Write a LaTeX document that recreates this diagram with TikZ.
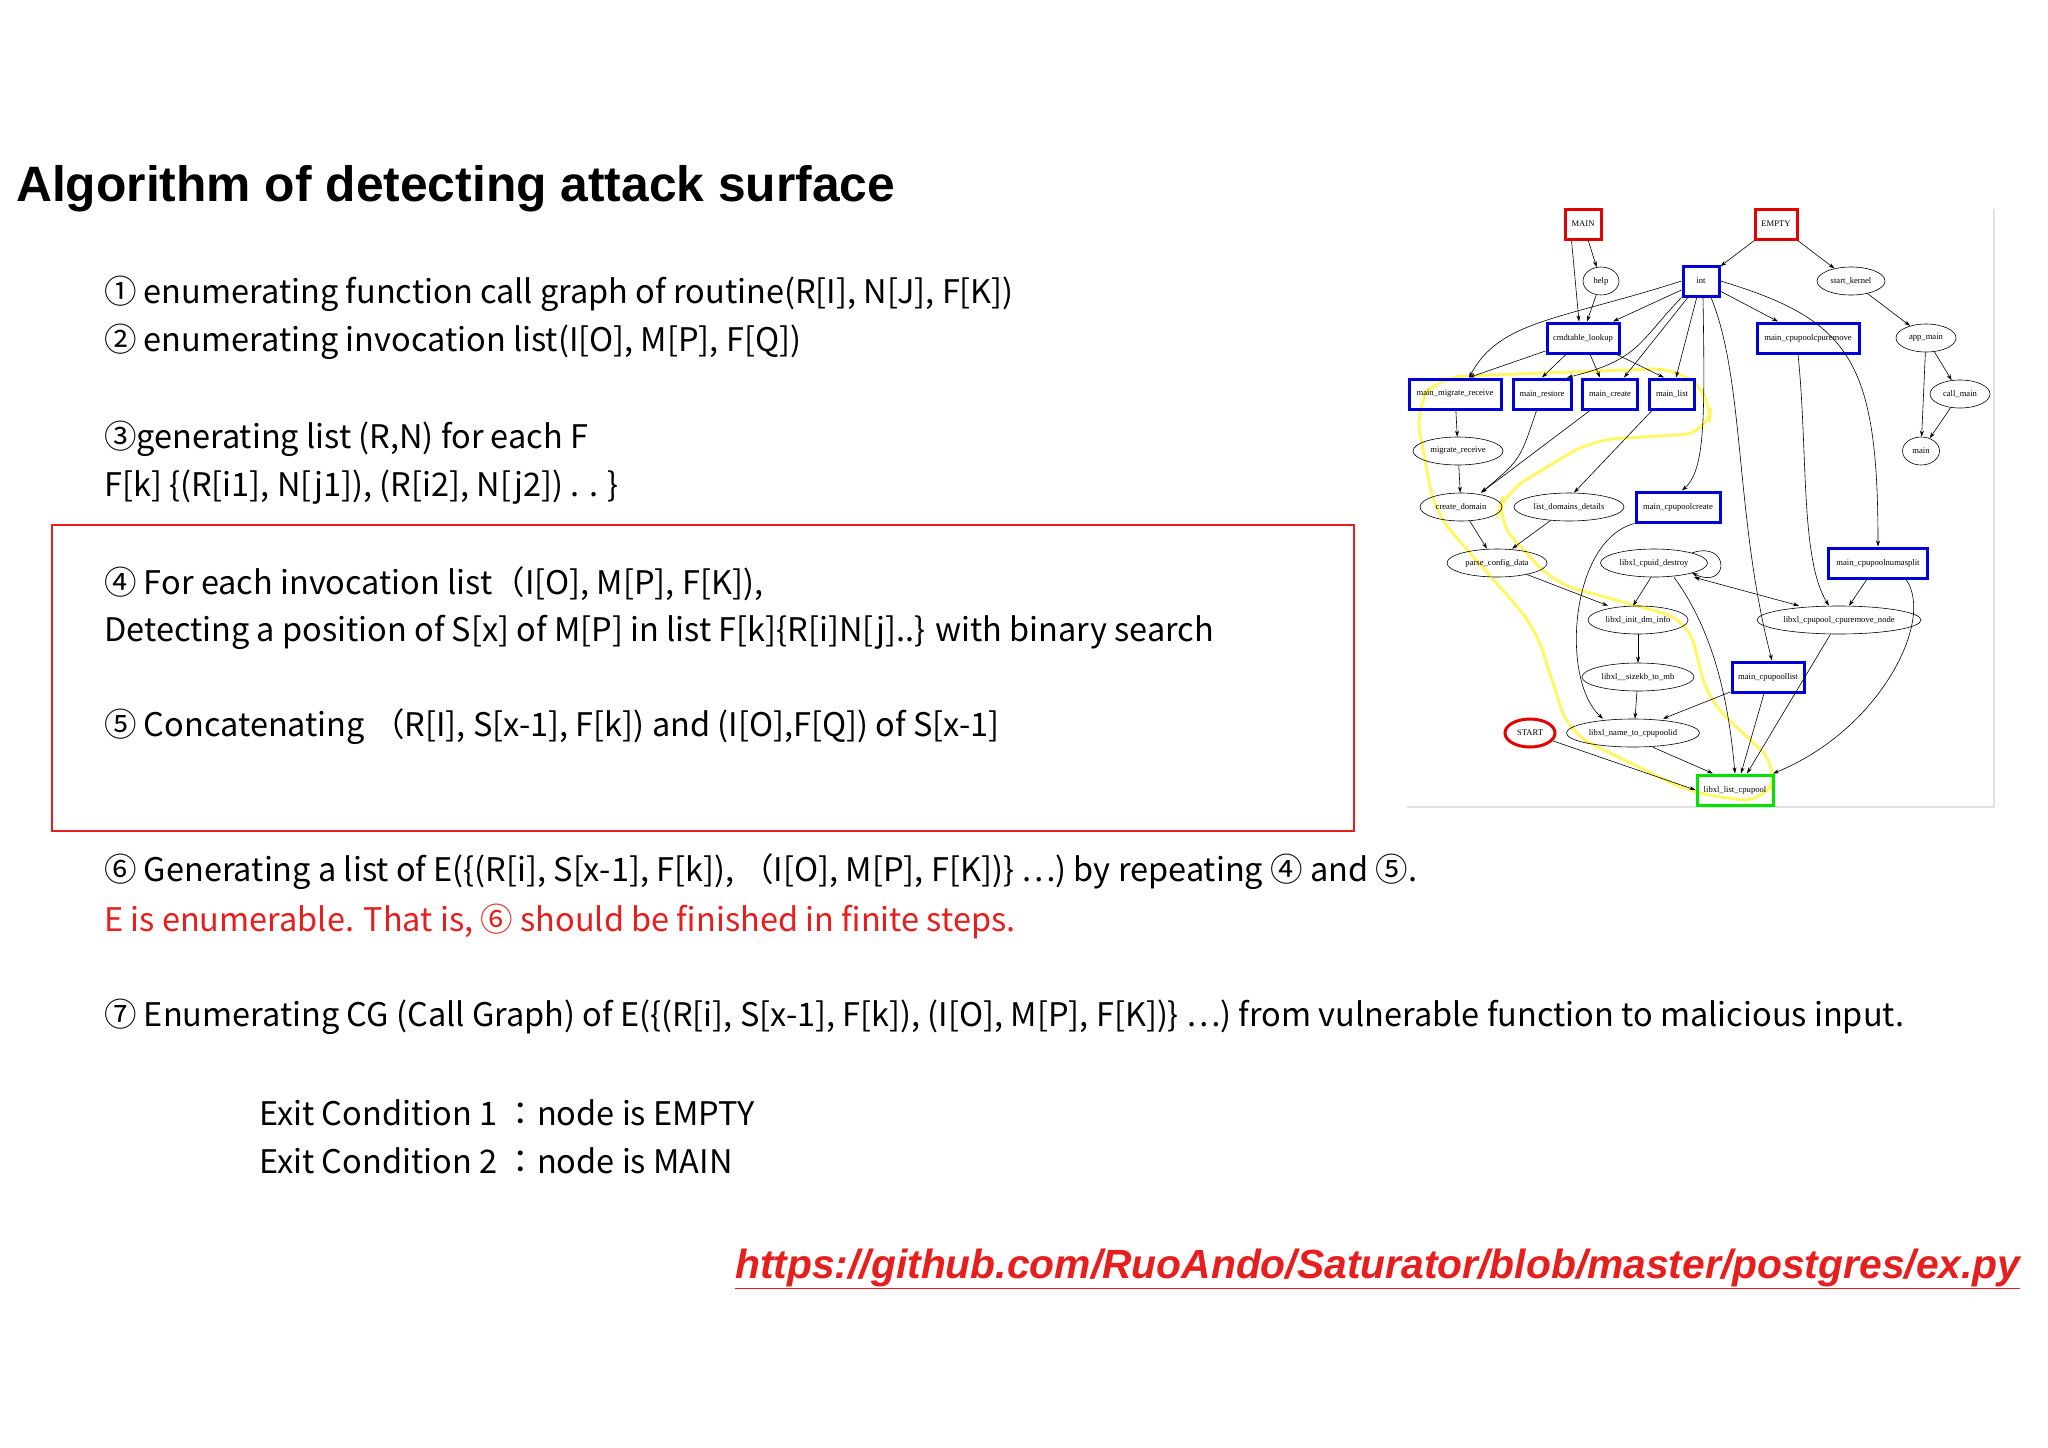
\documentclass[tikz,border=0pt]{standalone}
\usepackage{fontspec}
\setmainfont{Noto Sans CJK JP}
\newfontfamily\titlefont{Liberation Sans}
\newfontfamily\gfont{Liberation Serif}
\usetikzlibrary{shapes.geometric,arrows.meta}
\definecolor{rd}{RGB}{230,30,30}
\begin{document}
\begin{tikzpicture}[x=1pt,y=-1pt,
 txt/.style={anchor=west,inner sep=0pt,font=\fontsize{32.5}{38}\selectfont},
 gn/.style={font=\gfont\fontsize{8.6}{10}\selectfont,inner sep=0pt,minimum height=28pt},
 bbox/.style={gn,draw=blue!85!black,line width=3pt,rectangle,minimum height=30pt},
 rbox/.style={gn,draw=red!90!black,line width=3pt,rectangle,minimum height=30pt},
 ell/.style={gn,draw,ellipse,line width=0.6pt},
 ar/.style={-{Stealth[length=6pt,width=4pt]},line width=0.6pt}]
\useasboundingbox (0,0) rectangle (2048,1448);
\fill[white] (0,0) rectangle (2048,1448);
% title
\node[anchor=west,inner sep=0pt] (title) at (16,189) {\resizebox{879pt}{!}{\titlefont\bfseries\fontsize{40}{48}\selectfont Algorithm of detecting attack surface}};
\node[txt] (l1) at (104,294) {① enumerating function call graph of routine(R[I], N[J], F[K])};
\node[txt] (l2) at (104,342) {② enumerating invocation list(I[O], M[P], F[Q])};
\node[txt] (l3) at (104,439) {③generating list (R,N) for each F};
\node[txt] (l4) at (104,487) {F[k] \{(R[i1], N[j1]), (R[i2], N[j2]) . . \}};
\draw[rd,line width=1.5pt] (52,525) rectangle (1354,831);
\node[txt] (l5) at (104,584) {④ For each invocation list（I[O], M[P], F[K]),};
\node[txt] (l6) at (104,632) {Detecting a position of S[x] of M[P] in list F[k]\{R[i]N[j]..\} with binary search};
\node[txt] (l7) at (104,727) {⑤ Concatenating （R[I], S[x-1], F[k]) and (I[O],F[Q]) of S[x-1]};
\node[txt] (l8) at (104,872) {⑥ Generating a list of E(\{(R[i], S[x-1], F[k]), （I[O], M[P], F[K])\} …) by repeating ④ and ⑤.};
\node[txt,text=rd] (l9) at (104,921) {E is enumerable. That is, ⑥ should be finished in finite steps.};
\node[txt] (l10) at (104,1017) {⑦ Enumerating CG (Call Graph) of E(\{(R[i], S[x-1], F[k]), (I[O], M[P], F[K])\} …) from vulnerable function to malicious input.};
\node[txt] (e1) at (259,1113) {Exit Condition 1 ：node is EMPTY};
\node[txt] (e2) at (259,1161) {Exit Condition 2 ：node is MAIN};
\node[anchor=west,inner sep=0pt,text=rd] (url) at (735,1269) {\resizebox{1285pt}{!}{\titlefont\bfseries\itshape\fontsize{36}{40}\selectfont\underline{https://github.com/RuoAndo/Saturator/blob/master/postgres/ex.py}}};
% graph frame
\draw[black!12,line width=1.5pt] (1407,807) -- (1994,807) -- (1994,209);
% yellow highlight
\draw[yellow!85!white,line width=3pt,opacity=0.7,rounded corners=25pt]
 (1438,377) -- (1677,368) -- (1712,397) -- (1708,433) -- (1592,440) -- (1504,493) -- (1496,520)
 -- (1554,583) -- (1688,620) -- (1708,700) -- (1779,767) -- (1765,803) -- (1692,793) -- (1569,733)
 -- (1535,627) -- (1435,513) -- (1415,407) -- cycle;
% nodes
\node[rbox,minimum width=36pt] (MAIN) at (1583,224) {MAIN};
\node[rbox,minimum width=42pt] (EMPTY) at (1776,224) {EMPTY};
\node[ell,minimum width=36pt] (help) at (1601,281) {help};
\node[bbox,minimum width=36pt] (int) at (1701,281) {int};
\node[ell,minimum width=68pt] (sk) at (1851,281) {start\_kernel};
\node[bbox,minimum width=72pt] (cmd) at (1583,338) {cmdtable\_lookup};
\node[bbox,minimum width=102pt] (mcr) at (1808,338) {main\_cpupoolcpuremove};
\node[ell,minimum width=60pt] (app) at (1926,338) {app\_main};
\node[bbox,minimum width=92pt] (mmr) at (1455,394) {main\_migrate\_receive};
\node[bbox,minimum width=58pt] (mres) at (1542,394) {main\_restore};
\node[bbox,minimum width=55pt] (mcre) at (1610,394) {main\_create};
\node[bbox,minimum width=45pt] (mlist) at (1672,394) {main\_list};
\node[ell,minimum width=60pt] (call) at (1960,394) {call\_main};
\node[ell,minimum width=90pt] (mrec) at (1458,451) {migrate\_receive};
\node[ell,minimum width=37pt] (main) at (1921,451) {main};
\node[ell,minimum width=82pt] (cd) at (1461,507) {create\_domain};
\node[ell,minimum width=110pt] (ldd) at (1569,507) {list\_domains\_details};
\node[bbox,minimum width=84pt] (mcc) at (1678,507) {main\_cpupoolcreate};
\node[ell,minimum width=100pt] (pcd) at (1497,563) {parse\_config\_data};
\node[ell,minimum width=107pt] (cdes) at (1654,563) {libxl\_cpuid\_destroy};
\node[bbox,minimum width=99pt] (mns) at (1878,563) {main\_cpupoolnumasplit};
\node[ell,minimum width=100pt] (idm) at (1638,620) {libxl\_init\_dm\_info};
\node[ell,minimum width=164pt] (crn) at (1839,620) {libxl\_cpupool\_cpuremove\_node};
\node[ell,minimum width=112pt] (skb) at (1638,677) {libxl\_\_sizekb\_to\_mb};
\node[bbox,minimum width=72pt] (mcl) at (1768,677) {main\_cpupoollist};
\node[ell,draw=red!90!black,line width=3pt,minimum width=50pt] (START) at (1530,733) {START};
\node[ell,minimum width=133pt] (ntc) at (1633,733) {libxl\_name\_to\_cpupoolid};
\node[gn,rectangle,draw=green!90!black,line width=3pt,minimum width=76pt,minimum height=30pt] (llc) at (1735,790) {libxl\_list\_cpupool};
% edges
\draw[ar] (MAIN) -- (help);
\draw[ar] (MAIN.south west) ++(8,0) -- ([xshift=-4pt]cmd.north);
\draw[ar] (help) -- ([xshift=4pt]cmd.north);
\draw[ar] (EMPTY) -- (int);
\draw[ar] (EMPTY) -- (sk);
\draw[ar] (int) -- ([xshift=30pt]cmd.north);
\draw[ar] (int.west) .. controls (1560,320) and (1500,320) .. ([xshift=14pt]mmr.north);
\draw[ar] (int.south west) .. controls (1640,340) and (1640,360) .. ([xshift=25pt]mres.north);
\draw[ar] (int) -- ([xshift=14pt]mcre.north);
\draw[ar] (int) -- ([xshift=4pt]mlist.north);
\draw[ar] ([xshift=2pt]int.south) .. controls (1705,420) and (1705,470) .. ([xshift=4pt]mcc.north);
\draw[ar] ([xshift=10pt]int.south) .. controls (1745,380) and (1735,520) .. ([xshift=4pt]mcl.north);
\draw[ar] (int.east) .. controls (1850,320) and (1878,360) .. ([xshift=0pt]mns.north);
\draw[ar] (int) -- ([xshift=-30pt]mcr.north);
\draw[ar] (sk) -- (app);
\draw[ar] (app) -- (main);
\draw[ar] (app) -- (call);
\draw[ar] (call) -- (main);
\draw[ar] (cmd) -- ([xshift=14pt]mmr.north);
\draw[ar] (cmd) -- (mres.north);
\draw[ar] (cmd) -- ([xshift=-10pt]mcre.north);
\draw[ar] (cmd) -- ([xshift=-8pt]mlist.north);
\draw[ar] (mmr) -- (mrec);
\draw[ar] (mrec) -- (cd);
\draw[ar] (mres.south west) ++(25,0) .. controls (1520,460) .. ([xshift=20pt]cd.north);
\draw[ar] ([xshift=-20pt]mcre.south) -- ([xshift=20pt]cd.north);
\draw[ar] ([xshift=-20pt]mlist.south) -- ([xshift=5pt]ldd.north);
\draw[ar] (cd) -- ([xshift=-10pt]pcd.north);
\draw[ar] (ldd) -- ([xshift=15pt]pcd.north);
\draw[ar] (pcd) -- ([xshift=-30pt]idm.north);
\draw[ar] (mcc.south west) .. controls (1570,540) and (1560,680) .. ([xshift=-30pt]ntc.north);
\draw[ar] (cdes.north east) .. controls (1730,540) and (1730,590) .. (cdes.south east);
\draw[ar] ([xshift=-3pt]cdes.south) -- ([xshift=-5pt]idm.north);
\draw[ar] ([xshift=20pt]cdes.south) .. controls (1720,640) and (1730,720) .. ([xshift=0pt]llc.north);
\draw[{Stealth[length=6pt,width=4pt]}-{Stealth[length=6pt,width=4pt]},line width=0.6pt] ([xshift=40pt]cdes.south) -- ([xshift=-40pt]crn.north);
\draw[ar] ([xshift=-10pt]mcr.south) .. controls (1808,450) and (1800,560) .. ([xshift=-10pt]crn.north);
\draw[ar] (mns) -- ([xshift=10pt]crn.north);
\draw[ar] ([xshift=28pt]mns.south) .. controls (1935,620) and (1880,730) .. ([xshift=38pt]llc.north);
\draw[ar] (idm) -- (skb);
\draw[ar] (skb) -- ([xshift=2pt]ntc.north);
\draw[ar] (mcl) -- ([xshift=30pt]ntc.north);
\draw[ar] ([xshift=-4pt]mcl.south) -- ([xshift=6pt]llc.north);
\draw[ar] (crn) -- ([xshift=12pt]llc.north);
\draw[ar] (START) -- (llc.west);
\draw[ar] ([xshift=20pt]ntc.south) -- ([xshift=-22pt]llc.north);
\end{tikzpicture}
\end{document}
